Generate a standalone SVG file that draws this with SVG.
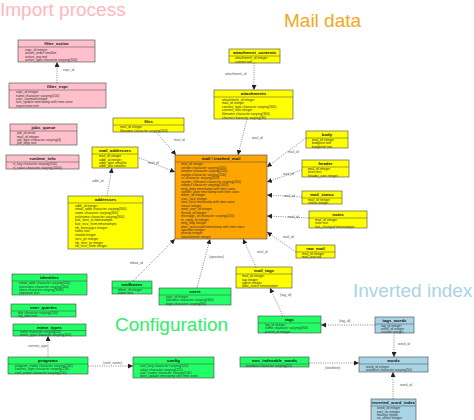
<svg xmlns="http://www.w3.org/2000/svg" width="474" height="420" viewBox="0 0 474 420">
<style>
.title{font-family:"Liberation Sans",Arial,sans-serif;font-size:19px}
.node rect{stroke:#444;stroke-width:0.6}
.node line{stroke:#444;stroke-width:0.5}
.pink rect{fill:#ffc0cb}
.yellow rect{fill:#ffff00}
.orange rect{fill:#ffa500}
.green rect{fill:#22ff66}
.blue rect{fill:#a8d4e6}
.h{font-family:"Liberation Sans",Arial,sans-serif;font-size:4.3px;font-weight:bold;text-anchor:middle;fill:#111}
.f{font-family:"Liberation Sans",Arial,sans-serif;font-size:3.4px;fill:#333}
.conn path{fill:none;stroke:#555;stroke-width:0.7;stroke-dasharray:1,1.3;marker-end:url(#arr)}
.lbl{font-family:"Liberation Sans",Arial,sans-serif;font-size:3.4px;fill:#555}
</style>
<defs>
<marker id="arr" viewBox="0 0 10 10" refX="10" refY="5" markerWidth="5" markerHeight="5" orient="auto" markerUnits="userSpaceOnUse">
<path d="M0,0 L10,5 L0,10 z" fill="#222"/>
</marker>
</defs>
<rect width="474" height="420" fill="#ffffff"/>
<text class="title" x="0" y="16" fill="#ffb6c1">Import process</text>
<text class="title" x="284" y="27" fill="#f5a623">Mail data</text>
<text class="title" x="353" y="297" fill="#a8d4e6">Inverted index</text>
<text class="title" x="115" y="331" fill="#33ee66">Configuration</text>

<g id="connectors" class="conn">
<path d="M57,83 L57,62"/>
<path d="M254,63 L254,90"/>
<path d="M247,119 L238,155"/>
<path d="M156,132 L176,155"/>
<path d="M306,138 L267,167"/>
<path d="M302,170 L267,182"/>
<path d="M302,197 L267,195"/>
<path d="M309,218 L267,216"/>
<path d="M296,252 L267,232"/>
<path d="M137,157 L175,172"/>
<path d="M107,196 L112,168"/>
<path d="M133,281 L175,239"/>
<path d="M197,288 L210,239"/>
<path d="M256,267 L243,239"/>
<path d="M283,316 L270,288"/>
<path d="M375,325 L321,325"/>
<path d="M394,333 L394,357"/>
<path d="M309,363 L359,363"/>
<path d="M393,399 L393,372"/>
<path d="M48,357 L48,336"/>
<path d="M88,366 L133,366"/>
<text class="lbl" x="63" y="71">expr_id</text>
<text class="lbl" x="225" y="75">attachment_id</text>
<text class="lbl" x="252" y="139">mail_id</text>
<text class="lbl" x="174" y="141">mail_id</text>
<text class="lbl" x="288" y="153">mail_id</text>
<text class="lbl" x="283" y="175">mail_id</text>
<text class="lbl" x="284" y="197">mail_id</text>
<text class="lbl" x="288" y="218">mail_id</text>
<text class="lbl" x="283" y="238">mail_id</text>
<text class="lbl" x="148" y="164">mail_id</text>
<text class="lbl" x="92" y="182">addr_id</text>
<text class="lbl" x="130" y="264">mbox_id</text>
<text class="lbl" x="209" y="258">(operator)</text>
<text class="lbl" x="257" y="253">mail_id</text>
<text class="lbl" x="280" y="296">(tag_id)</text>
<text class="lbl" x="339" y="322">(tag_id)</text>
<text class="lbl" x="398" y="345">word_id</text>
<text class="lbl" x="325" y="369">(wordtext)</text>
<text class="lbl" x="400" y="386">word_id</text>
<text class="lbl" x="28" y="347">content_type</text>
<text class="lbl" x="103" y="364">(conf_name)</text>
</g>

<g id="filter_action" class="node pink">
<rect x="18" y="40" width="77" height="22"/><line x1="18" y1="47" x2="95" y2="47"/>
<text class="h" x="56.5" y="45.3">filter_action</text>
<text class="f" y="50.5"><tspan x="25" dy="0">expr_id  integer</tspan><tspan x="25" dy="3.5">action_order  smallint</tspan><tspan x="25" dy="3.5">action_arg  text</tspan><tspan x="25" dy="3.5">action_type  character varying(100)</tspan></text>
</g>
<g id="filter_expr" class="node pink">
<rect x="9" y="83" width="97" height="25"/><line x1="9" y1="90" x2="106" y2="90"/>
<text class="h" x="57.5" y="88.3">filter_expr</text>
<text class="f" y="93.3"><tspan x="16" dy="0">expr_id  integer</tspan><tspan x="16" dy="3.3">name  character varying(100)</tspan><tspan x="16" dy="3.3">user_lastmod  integer</tspan><tspan x="16" dy="3.3">last_update  timestamp with time zone</tspan><tspan x="16" dy="3.3">expression  text</tspan></text>
</g>
<g id="jobs_queue" class="node pink">
<rect x="10" y="124" width="67" height="21"/><line x1="10" y1="131" x2="77" y2="131"/>
<text class="h" x="43.5" y="129.3">jobs_queue</text>
<text class="f" y="134.3"><tspan x="17" dy="0">job_id  serial</tspan><tspan x="17" dy="3.3">mail_id  integer</tspan><tspan x="17" dy="3.3">job_type  character varying(4)</tspan><tspan x="17" dy="3.3">job_args  text</tspan></text>
</g>
<g id="runtime_info" class="node pink">
<rect x="6" y="155" width="73" height="14"/><line x1="6" y1="162" x2="79" y2="162"/>
<text class="h" x="42.5" y="160.3">runtime_info</text>
<text class="f" y="165.3"><tspan x="13" dy="0">rt_key  character varying(100)</tspan><tspan x="13" dy="3.2">rt_value  character varying(1000)</tspan></text>
</g>

<g id="attachment_contents" class="node yellow">
<rect x="229" y="49" width="51" height="14"/><line x1="229" y1="56" x2="280" y2="56"/>
<text class="h" x="254.5" y="54.3">attachment_contents</text>
<text class="f" y="59.3"><tspan x="235" dy="0">attachment_id  integer</tspan><tspan x="235" dy="3.2">content  oid</tspan></text>
</g>
<g id="attachments" class="node yellow">
<rect x="214" y="90" width="79" height="29"/><line x1="214" y1="97" x2="293" y2="97"/>
<text class="h" x="253.5" y="95.3">attachments</text>
<text class="f" y="100.5"><tspan x="222" dy="0">attachment_id  integer</tspan><tspan x="222" dy="3.6">mail_id  integer</tspan><tspan x="222" dy="3.6">content_type  character varying(300)</tspan><tspan x="222" dy="3.6">content_size  integer</tspan><tspan x="222" dy="3.6">filename  character varying(300)</tspan><tspan x="222" dy="3.6">charset  character varying(30)</tspan></text>
</g>
<g id="files" class="node yellow">
<rect x="113" y="118" width="71" height="14"/><line x1="113" y1="125" x2="184" y2="125"/>
<text class="h" x="148.5" y="123.3">files</text>
<text class="f" y="128.3"><tspan x="120" dy="0">mail_id  integer</tspan><tspan x="120" dy="3.2">filename  character varying(300)</tspan></text>
</g>
<g id="mail_addresses" class="node yellow">
<rect x="92" y="147" width="46" height="21"/><line x1="92" y1="154" x2="138" y2="154"/>
<text class="h" x="115" y="152.3">mail_addresses</text>
<text class="f" y="157.3"><tspan x="99" dy="0">mail_id  integer</tspan><tspan x="99" dy="3.3">addr_id  integer</tspan><tspan x="99" dy="3.3">addr_type  smallint</tspan><tspan x="99" dy="3.3">addr_pos  smallint</tspan></text>
</g>
<g id="addresses" class="node yellow">
<rect x="68" y="196" width="75" height="53"/><line x1="68" y1="203" x2="143" y2="203"/>
<text class="h" x="105.5" y="201.3">addresses</text>
<text class="f" y="206.5"><tspan x="75" dy="0">addr_id  integer</tspan><tspan x="75" dy="3.7">email_addr  character varying(300)</tspan><tspan x="75" dy="3.7">name  character varying(300)</tspan><tspan x="75" dy="3.7">nickname  character varying(300)</tspan><tspan x="75" dy="3.7">last_sent_to  timestamptz</tspan><tspan x="75" dy="3.7">last_recv_from  timestamptz</tspan><tspan x="75" dy="3.7">nb_messages  integer</tspan><tspan x="75" dy="3.7">notes  text</tspan><tspan x="75" dy="3.7">invalid  integer</tspan><tspan x="75" dy="3.7">recv_pri  integer</tspan><tspan x="75" dy="3.7">nb_sent_to  integer</tspan><tspan x="75" dy="3.7">nb_recv_from  integer</tspan></text>
</g>
<g id="mail" class="node orange">
<rect x="175" y="155" width="92" height="84"/><line x1="175" y1="162" x2="267" y2="162"/>
<text class="h" x="221" y="160.3">mail / trashed_mail</text>
<text class="f" y="165.4"><tspan x="181" dy="0">mail_id  integer</tspan><tspan x="181" dy="3.45">sender  character varying(200)</tspan><tspan x="181" dy="3.45">toname  character varying(200)</tspan><tspan x="181" dy="3.45">replyto  character varying(200)</tspan><tspan x="181" dy="3.45">cc  character varying(200)</tspan><tspan x="181" dy="3.45">sender_fullname  character varying(200)</tspan><tspan x="181" dy="3.45">subject  character varying(1000)</tspan><tspan x="181" dy="3.45">msg_date  timestamp with time zone</tspan><tspan x="181" dy="3.45">sender_date  timestamp with time zone</tspan><tspan x="181" dy="3.45">mbox_id  integer</tspan><tspan x="181" dy="3.45">user_lock  integer</tspan><tspan x="181" dy="3.45">time_lock  timestamp with time zone</tspan><tspan x="181" dy="3.45">status  integer</tspan><tspan x="181" dy="3.45">mod_user_id  integer</tspan><tspan x="181" dy="3.45">thread_id  integer</tspan><tspan x="181" dy="3.45">message_id  character varying(100)</tspan><tspan x="181" dy="3.45">in_reply_to  integer</tspan><tspan x="181" dy="3.45">msg_day  integer</tspan><tspan x="181" dy="3.45">date_processed  timestamp with time zone</tspan><tspan x="181" dy="3.45">operator  integer</tspan><tspan x="181" dy="3.45">priority  integer</tspan><tspan x="181" dy="3.45">attachments  integer</tspan></text>
</g>
<g id="body" class="node yellow">
<rect x="306" y="131" width="42" height="17"/><line x1="306" y1="138" x2="348" y2="138"/>
<text class="h" x="327" y="136.3">body</text>
<text class="f" y="141.3"><tspan x="312" dy="0">mail_id  integer</tspan><tspan x="312" dy="3.1">bodytext  text</tspan><tspan x="312" dy="3.1">bodyhtml  text</tspan></text>
</g>
<g id="header" class="node yellow">
<rect x="302" y="160" width="47" height="17"/><line x1="302" y1="167" x2="349" y2="167"/>
<text class="h" x="325.5" y="165.3">header</text>
<text class="f" y="170.3"><tspan x="308" dy="0">mail_id  integer</tspan><tspan x="308" dy="3.1">lines  text</tspan><tspan x="308" dy="3.1">header_size  integer</tspan></text>
</g>
<g id="mail_status" class="node yellow">
<rect x="302" y="191" width="40" height="13"/><line x1="302" y1="198" x2="342" y2="198"/>
<text class="h" x="322" y="196.3">mail_status</text>
<text class="f" y="201.2"><tspan x="308" dy="0">mail_id  integer</tspan><tspan x="308" dy="3">status  integer</tspan></text>
</g>
<g id="notes" class="node yellow">
<rect x="309" y="211" width="58" height="17"/><line x1="309" y1="218" x2="367" y2="218"/>
<text class="h" x="338" y="216.3">notes</text>
<text class="f" y="221.3"><tspan x="315" dy="0">mail_id  integer</tspan><tspan x="315" dy="3.1">note  text</tspan><tspan x="315" dy="3.1">last_changed  timestamptz</tspan></text>
</g>
<g id="raw_mail" class="node yellow">
<rect x="296" y="245" width="39" height="13"/><line x1="296" y1="252" x2="335" y2="252"/>
<text class="h" x="315.5" y="250.3">raw_mail</text>
<text class="f" y="255.2"><tspan x="302" dy="0">mail_id  integer</tspan><tspan x="302" dy="3">mail_text  oid</tspan></text>
</g>
<g id="mail_tags" class="node yellow">
<rect x="236" y="267" width="56" height="21"/><line x1="236" y1="274" x2="292" y2="274"/>
<text class="h" x="264" y="272.3">mail_tags</text>
<text class="f" y="277.3"><tspan x="242" dy="0">mail_id  integer</tspan><tspan x="242" dy="3.3">tag  integer</tspan><tspan x="242" dy="3.3">agent  integer</tspan><tspan x="242" dy="3.3">date_insert  timestamptz</tspan></text>
</g>

<g id="tags" class="node green">
<rect x="258" y="316" width="63" height="17"/><line x1="258" y1="323" x2="321" y2="323"/>
<text class="h" x="289.5" y="321.3">tags</text>
<text class="f" y="326.3"><tspan x="265" dy="0">tag_id  integer</tspan><tspan x="265" dy="3.1">name  character varying(300)</tspan><tspan x="265" dy="3.1">parent_id  integer</tspan></text>
</g>
<g id="non_indexable_words" class="node green">
<rect x="240" y="357" width="69" height="10"/><line x1="240" y1="364" x2="309" y2="364"/>
<text class="h" x="274.5" y="362.3">non_indexable_words</text>
<text class="f" y="366.8"><tspan x="246" dy="0">wordtext  character varying(50)</tspan></text>
</g>
<g id="identities" class="node green">
<rect x="12" y="274" width="75" height="21"/><line x1="12" y1="281" x2="87" y2="281"/>
<text class="h" x="49.5" y="279.3">identities</text>
<text class="f" y="284.3"><tspan x="19" dy="0">email_addr  character varying(200)</tspan><tspan x="19" dy="3.3">username  character varying(200)</tspan><tspan x="19" dy="3.3">xface  character varying(3000)</tspan><tspan x="19" dy="3.3">signature  text</tspan></text>
</g>
<g id="user_queries" class="node green">
<rect x="11" y="304" width="65" height="13"/><line x1="11" y1="311" x2="76" y2="311"/>
<text class="h" x="43.5" y="309.3">user_queries</text>
<text class="f" y="314.2"><tspan x="18" dy="0">title  character varying(100)</tspan><tspan x="18" dy="3">sql_stmt  text</tspan></text>
</g>
<g id="mime_types" class="node green">
<rect x="13" y="324" width="73" height="12"/><line x1="13" y1="330.5" x2="86" y2="330.5"/>
<text class="h" x="49.5" y="328.9">mime_types</text>
<text class="f" y="333.4"><tspan x="20" dy="0">suffix  character varying(20)</tspan><tspan x="20" dy="2.9">mime_type  character varying(100)</tspan></text>
</g>
<g id="programs" class="node green">
<rect x="8" y="357" width="80" height="17"/><line x1="8" y1="364" x2="88" y2="364"/>
<text class="h" x="48" y="362.3">programs</text>
<text class="f" y="367.3"><tspan x="15" dy="0">program_name  character varying(256)</tspan><tspan x="15" dy="3.1">content_type  character varying(256)</tspan><tspan x="15" dy="3.1">conf_name  character varying(100)</tspan></text>
</g>
<g id="config" class="node green">
<rect x="133" y="357" width="81" height="21"/><line x1="133" y1="364" x2="214" y2="364"/>
<text class="h" x="173.5" y="362.3">config</text>
<text class="f" y="367.3"><tspan x="140" dy="0">conf_key  character varying(100)</tspan><tspan x="140" dy="3.3">value  character varying(255)</tspan><tspan x="140" dy="3.3">conf_name  character varying(100)</tspan><tspan x="140" dy="3.3">date_update  timestamp with time zone</tspan></text>
</g>
<g id="mailboxes" class="node green">
<rect x="112" y="281" width="40" height="13"/><line x1="112" y1="288" x2="152" y2="288"/>
<text class="h" x="132" y="286.3">mailboxes</text>
<text class="f" y="291.2"><tspan x="118" dy="0">mbox_id  integer</tspan><tspan x="118" dy="3">name  text</tspan></text>
</g>
<g id="users" class="node green">
<rect x="159" y="288" width="72" height="17"/><line x1="159" y1="295" x2="231" y2="295"/>
<text class="h" x="195" y="293.3">users</text>
<text class="f" y="298.3"><tspan x="166" dy="0">user_id  integer</tspan><tspan x="166" dy="3.1">fullname  character varying(300)</tspan><tspan x="166" dy="3.1">login  character varying(80)</tspan></text>
</g>

<g id="tags_words" class="node blue">
<rect x="375" y="317" width="39" height="16"/><line x1="375" y1="324" x2="414" y2="324"/>
<text class="h" x="394.5" y="322.3">tags_words</text>
<text class="f" y="327.2"><tspan x="381" dy="0">tag_id  integer</tspan><tspan x="381" dy="3">word_id  integer</tspan><tspan x="381" dy="3">counter  integer</tspan></text>
</g>
<g id="words" class="node blue">
<rect x="359" y="357" width="69" height="15"/><line x1="359" y1="364" x2="428" y2="364"/>
<text class="h" x="393.5" y="362.3">words</text>
<text class="f" y="367.5"><tspan x="366" dy="0">word_id  integer</tspan><tspan x="366" dy="3.2">wordtext  character varying(50)</tspan></text>
</g>
<g id="inverted_word_index" class="node blue">
<rect x="371" y="399" width="45" height="25"/><line x1="371" y1="406" x2="416" y2="406"/>
<text class="h" x="393.5" y="404.3">inverted_word_index</text>
<text class="f" y="409.3"><tspan x="377" dy="0">word_id  integer</tspan><tspan x="377" dy="3.3">part_no  integer</tspan><tspan x="377" dy="3.3">mailvec  bytea</tspan><tspan x="377" dy="3.3">nz_offset  integer</tspan></text>
</g>
</svg>
